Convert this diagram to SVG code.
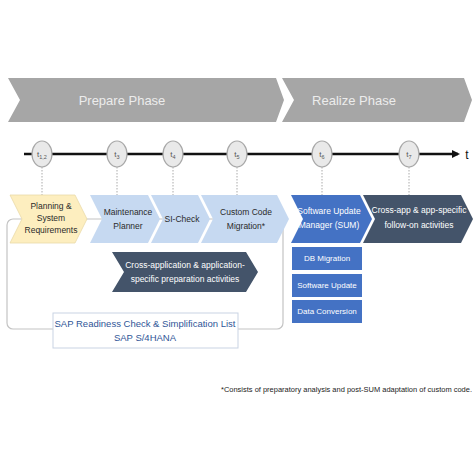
<svg xmlns="http://www.w3.org/2000/svg" width="474" height="474" viewBox="0 0 474 474">
<style>
text{font-family:"Liberation Sans",Arial,sans-serif;text-anchor:middle}
.phase{fill:#a6a6a6}
.ptxt{fill:#ececec;font-size:13px}
.tc{fill:#e9e9e9;stroke:#a8a8a8;stroke-width:1.2}
.tl{fill:#555;font-size:8px}
.sub{font-size:5.5px}
.dot{stroke:#aaa;stroke-width:1;stroke-dasharray:1.5 1.5}
.lb{fill:#c6d9f1}
.yl{fill:#fdeebf}
.bl{fill:#4472c4}
.dk{fill:#44546a}
.dt{fill:#2a2a2a;font-size:8.5px}
.wt{fill:#fff;font-size:8.5px}
.dst{fill:#fff;font-size:8px}
</style>
<defs>
<marker id="ah" markerWidth="8" markerHeight="8" refX="6" refY="4" orient="auto" markerUnits="userSpaceOnUse">
<path d="M0,0 L8,4 L0,8 z" fill="#111"/>
</marker>
</defs>
<rect width="474" height="474" fill="#fff"/>

<g id="phase-prepare">
<polygon class="phase" points="8,78 276,78 284,100 276,122 8,122 20,100"/>
<text class="ptxt" x="122" y="105">Prepare Phase</text>
</g>
<g id="phase-realize">
<polygon class="phase" points="282,78 464,78 472,100 464,122 282,122 294,100"/>
<text class="ptxt" x="354" y="105">Realize Phase</text>
</g>

<g id="frame">
<rect x="7" y="219" width="276" height="110" rx="6" fill="#fff" stroke="#c4c4c4" stroke-width="1.2"/>
</g>

<g id="connectors">
<line x1="24" y1="154" x2="458" y2="154" stroke="#111" stroke-width="2.5" marker-end="url(#ah)"/>
<line class="dot" x1="42" y1="167" x2="42" y2="196"/>
<line class="dot" x1="117" y1="167" x2="117" y2="196"/>
<line class="dot" x1="173" y1="167" x2="173" y2="196"/>
<line class="dot" x1="237" y1="167" x2="237" y2="196"/>
<line class="dot" x1="322" y1="167" x2="322" y2="196"/>
<line class="dot" x1="409" y1="167" x2="409" y2="196"/>
</g>
<text x="467" y="159" style="font-size:12px;fill:#111">t</text>

<g id="t12"><ellipse class="tc" cx="42" cy="154" rx="10" ry="13"/><text class="tl" x="42" y="157">t<tspan class="sub" dy="2">1,2</tspan></text></g>
<g id="t3"><ellipse class="tc" cx="117" cy="154" rx="10" ry="13"/><text class="tl" x="117" y="157">t<tspan class="sub" dy="2">3</tspan></text></g>
<g id="t4"><ellipse class="tc" cx="173" cy="154" rx="10" ry="13"/><text class="tl" x="173" y="157">t<tspan class="sub" dy="2">4</tspan></text></g>
<g id="t5"><ellipse class="tc" cx="237" cy="154" rx="10" ry="13"/><text class="tl" x="237" y="157">t<tspan class="sub" dy="2">5</tspan></text></g>
<g id="t6"><ellipse class="tc" cx="322" cy="154" rx="10" ry="13"/><text class="tl" x="322" y="157">t<tspan class="sub" dy="2">6</tspan></text></g>
<g id="t7"><ellipse class="tc" cx="409" cy="154" rx="10" ry="13"/><text class="tl" x="409" y="157">t<tspan class="sub" dy="2">7</tspan></text></g>

<g id="planning">
<polygon class="yl" points="10,195 75,195 87,219 75,243 10,243 22,219" stroke="#e8d9a8" stroke-width="0.8"/>
<text class="dt" x="51" y="209">Planning &amp;</text>
<text class="dt" x="51" y="221">System</text>
<text class="dt" x="51" y="233">Requirements</text>
</g>
<g id="maintenance">
<polygon class="lb" points="90,195 148,195 160,219 148,243 90,243 102,219"/>
<text class="dt" x="128" y="215">Maintenance</text>
<text class="dt" x="128" y="229">Planner</text>
</g>
<g id="sicheck">
<polygon class="lb" points="151,195 198,195 210,219 198,243 151,243 163,219"/>
<text class="dt" x="182" y="222">SI-Check</text>
</g>
<g id="customcode">
<polygon class="lb" points="201,195 277,195 289,219 277,243 201,243 213,219"/>
<text class="dt" x="246" y="215">Custom Code</text>
<text class="dt" x="246" y="229">Migration*</text>
</g>
<g id="sum">
<polygon class="bl" points="291,195 360,195 372,219 360,243 291,243 303,219"/>
<text class="wt" x="329" y="214">Software Update</text>
<text class="wt" x="329" y="228">Manager (SUM)</text>
</g>
<g id="followon">
<polygon class="dk" points="363,195 461,195 473,219 461,243 363,243 375,219"/>
<text class="wt" x="419" y="213">Cross-app &amp; app-specific</text>
<text class="wt" x="419" y="228">follow-on activities</text>
</g>

<g id="crossprep">
<polygon class="dk" points="112,252 246,252 258,272 246,292 112,292 124,272"/>
<text class="wt" x="185" y="268">Cross-application &amp; application-</text>
<text class="wt" x="185" y="282">specific preparation activities</text>
</g>

<g id="dbmig"><rect class="bl" x="292" y="247" width="70" height="23"/><text class="dst" x="327" y="261">DB Migration</text></g>
<g id="swupd"><rect class="bl" x="292" y="274" width="70" height="23"/><text class="dst" x="327" y="288">Software Update</text></g>
<g id="dataconv"><rect class="bl" x="292" y="300" width="70" height="23"/><text class="dst" x="327" y="314">Data Conversion</text></g>

<g id="readiness">
<rect x="53" y="313" width="185" height="35" fill="#fff" stroke="#c9d3e3" stroke-width="1"/>
<text x="145" y="327" style="font-size:9.5px;fill:#2f5597">SAP Readiness Check &amp; Simplification List</text>
<text x="145" y="341" style="font-size:9.5px;fill:#2f5597">SAP S/4HANA</text>
</g>

<text x="221" y="392" style="font-size:7px;fill:#222;text-anchor:start" textLength="251" lengthAdjust="spacingAndGlyphs">*Consists of preparatory analysis and post-SUM adaptation of custom code.</text>
</svg>
